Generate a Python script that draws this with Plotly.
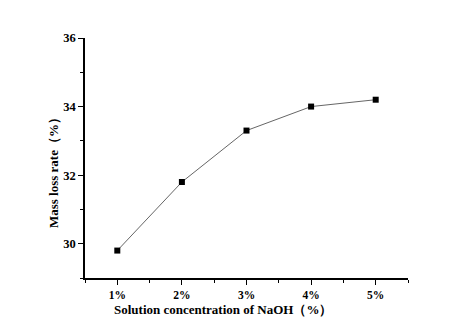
import plotly.graph_objects as go

conc = [1, 2, 3, 4, 5]
conc_labels = ["1%", "2%", "3%", "4%", "5%"]
mass_loss = [29.8, 31.8, 33.3, 34.0, 34.2]

fig = go.Figure()
fig.add_trace(go.Scatter(
    x=conc, y=mass_loss, mode="lines+markers",
    line=dict(color="#666666", width=1),
    marker=dict(symbol="square", size=6, color="black"),
))

font = "Liberation Serif, Times New Roman, serif"
fig.update_layout(
    width=474, height=333,
    margin=dict(l=85, r=66, t=38, b=55),
    paper_bgcolor="white", plot_bgcolor="white",
    showlegend=False,
    font=dict(family=font, color="black"),
    annotations=[
        dict(text="<b>Solution concentration of NaOH（%）</b>", xref="paper", yref="paper",
             x=0.427, y=-0.133, xanchor="center", yanchor="middle", showarrow=False,
             font=dict(family=font, size=13, color="black")),
        dict(text="<b>Mass loss rate（%）</b>", xref="paper", yref="paper",
             x=-0.099, y=0.45, xanchor="center", yanchor="middle", showarrow=False, textangle=-90,
             font=dict(family=font, size=13, color="black")),
    ],
)
fig.update_xaxes(
    range=[0.5, 5.5], tickmode="array", tickvals=conc, ticktext=conc_labels,
    showgrid=False, zeroline=False, showline=True, linecolor="black", linewidth=1.5,
    ticks="outside", ticklen=5, tickwidth=1.2, tickcolor="black",
    tickfont=dict(family=font, size=11.5, color="black", weight="bold"),
    minor=dict(tickmode="linear", tick0=0.5, dtick=0.5, ticks="outside", ticklen=3, tickcolor="black", showgrid=False),
)
fig.update_yaxes(
    range=[29, 36], tickmode="linear", tick0=30, dtick=2,
    showgrid=False, zeroline=False, showline=True, linecolor="black", linewidth=1.5,
    ticks="outside", ticklen=5, tickwidth=1.2, tickcolor="black",
    tickfont=dict(family=font, size=12.5, color="black", weight="bold"),
    minor=dict(tickmode="linear", tick0=29, dtick=1, ticks="outside", ticklen=3, tickcolor="black", showgrid=False),
)
fig.write_html("out.html")
